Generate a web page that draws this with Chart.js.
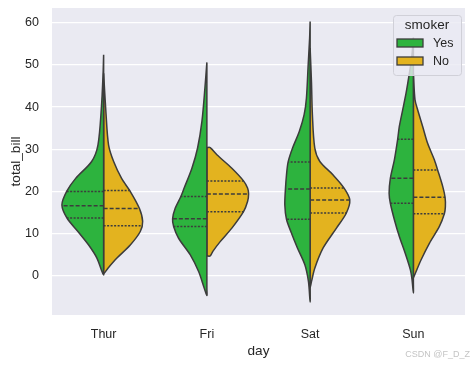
<!DOCTYPE html>
<html>
<head>
<meta charset="utf-8">
<script src="https://cdn.jsdelivr.net/npm/chart.js@4.4.1/dist/chart.umd.min.js"></script>
<style>
  html, body { margin: 0; padding: 0; background: #ffffff; }
  #wrap { position: relative; width: 474px; height: 365px; }
  #mark { position: absolute; right: 4px; top: 349px; font: 9px "Liberation Sans", Arial, sans-serif; color: #c4c4c4; }
</style>
</head>
<body>
<div id="wrap">
  <canvas id="c" width="474" height="365"></canvas>
  <div id="mark">CSDN @F_D_Z</div>
</div>
<script>
// ---- data ----
const days = ['Thur', 'Fri', 'Sat', 'Sun'];
const smokers = ['Yes', 'No'];
const yTicks = [0, 10, 20, 30, 40, 50, 60];

// density profiles: [total_bill, half-width in category units], top to bottom
const thurYes = [[52.4,0],[48,0.005],[39.7,0.022],[31,0.055],[27.1,0.116],[23.1,0.271],[20.0,0.358],[16.8,0.404],[13.7,0.355],[10.5,0.249],[7.3,0.145],[4.2,0.065],[1.0,0.016],[0.2,0]];
const thurNo  = [[48,0],[38.9,0.022],[31,0.048],[27.1,0.097],[23.1,0.174],[20.0,0.258],[16.0,0.346],[12.9,0.378],[10.5,0.355],[7.3,0.258],[4.2,0.129],[1.8,0.042],[0.5,0]];
const friYes  = [[50.6,0],[44.5,0.019],[36.6,0.048],[30.3,0.09],[25.5,0.145],[20.8,0.22],[18.8,0.252],[16.0,0.307],[13.5,0.332],[11.7,0.322],[8.9,0.274],[5.0,0.162],[1.0,0.08],[-2.9,0.026],[-4.7,0]];
const friNo   = [[30.4,0],[30.4,0.032],[28.7,0.097],[25.5,0.242],[22.5,0.355],[20.8,0.394],[19.4,0.404],[17.6,0.394],[15.2,0.355],[11.3,0.242],[8.1,0.129],[5.8,0.058],[4.7,0.032],[4.7,0]];
const satYes  = [[60.3,0],[56.3,0.005],[50,0.019],[42.1,0.036],[38.2,0.058],[34.2,0.105],[30.3,0.17],[27.0,0.213],[23.9,0.229],[20.6,0.239],[16.8,0.245],[13.4,0.229],[10.5,0.187],[6.6,0.123],[2.6,0.051],[-1.4,0.016],[-6.2,0]];
const satNo   = [[54,0],[46,0.013],[38.2,0.022],[30.3,0.045],[27.1,0.094],[23.9,0.223],[20.8,0.329],[18.0,0.384],[14.9,0.351],[11.3,0.255],[6.6,0.126],[1.8,0.045],[-1.4,0.013],[-2.8,0]];
const sunYes  = [[56.5,0],[52,0.015],[48,0.039],[43.3,0.071],[39.3,0.104],[35.4,0.136],[32.4,0.152],[27.5,0.184],[23.1,0.223],[19.6,0.235],[17.2,0.223],[13.3,0.184],[9.3,0.136],[5.4,0.08],[1.4,0.029],[-0.9,0.013],[-4.1,0]];
const sunNo   = [[48,0],[41.7,0.016],[39.3,0.042],[35.4,0.09],[31.4,0.138],[27.5,0.203],[25.1,0.235],[21.2,0.284],[18.6,0.307],[16.4,0.31],[14.7,0.3],[11.7,0.252],[7.7,0.155],[3.8,0.075],[0.6,0.019],[-0.5,0]];

// quartiles per day
const q1Yes  = [13.7, 11.7, 13.4, 17.2];
const medYes = [16.6, 13.5, 20.6, 23.1];
const q3Yes  = [20.0, 18.8, 27.0, 32.4];
const q1No   = [11.85, 15.2, 14.9, 14.7];
const medNo  = [15.95, 19.4, 18.0, 18.6];
const q3No   = [20.2, 22.5, 20.8, 25.1];

// ---- styling ----
const GREEN = '#2db33e';
const GOLD = '#e3b31f';
const EDGE = '#3c3c3c';
const FONT = '"Liberation Sans", Arial, Helvetica, sans-serif';

const profilesYes = [thurYes, friYes, satYes, sunYes];
const profilesNo = [thurNo, friNo, satNo, sunNo];

function halfPolygon(profile, center, side) {
  const pts = profile.map(([v, w]) => ({x: center + side * w, y: v}));
  for (let i = profile.length - 2; i >= 0; i--) pts.push({x: center, y: profile[i][0]});
  return pts;
}
function widthAt(profile, q) {
  for (let i = 0; i < profile.length - 1; i++) {
    const [v0, w0] = profile[i], [v1, w1] = profile[i + 1];
    if (q <= v0 && q >= v1) {
      if (v0 === v1) return Math.max(w0, w1);
      return w0 + (w1 - w0) * (v0 - q) / (v0 - v1);
    }
  }
  return 0;
}

const datasets = [];
days.forEach((d, i) => {
  datasets.push({label: 'Yes', order: 2, data: halfPolygon(profilesYes[i], i, -1), backgroundColor: GREEN, borderColor: EDGE, borderWidth: 1.5, fill: 'shape', tension: 0.3, pointRadius: 0});
  datasets.push({label: 'No', order: 2, data: halfPolygon(profilesNo[i], i, 1), backgroundColor: GOLD, borderColor: EDGE, borderWidth: 1.5, fill: 'shape', tension: 0.3, pointRadius: 0});
});
function quartLine(profile, center, side, q, dash) {
  return {label: 'q', order: 1, data: [{x: center, y: q}, {x: center + side * widthAt(profile, q), y: q}], borderColor: EDGE, borderWidth: 1.5, borderDash: dash, fill: false, pointRadius: 0, tension: 0};
}
days.forEach((d, i) => {
  datasets.push(quartLine(profilesYes[i], i, -1, q1Yes[i], [2, 1.5]));
  datasets.push(quartLine(profilesYes[i], i, -1, medYes[i], [4, 2]));
  datasets.push(quartLine(profilesYes[i], i, -1, q3Yes[i], [2, 1.5]));
  datasets.push(quartLine(profilesNo[i], i, 1, q1No[i], [2, 1.5]));
  datasets.push(quartLine(profilesNo[i], i, 1, medNo[i], [4, 2]));
  datasets.push(quartLine(profilesNo[i], i, 1, q3No[i], [2, 1.5]));
});

const bgPlugin = {
  id: 'bg',
  beforeDraw(chart) {
    const {ctx, chartArea: a} = chart;
    ctx.save();
    ctx.fillStyle = '#eaeaf2';
    ctx.fillRect(a.left, a.top, a.right - a.left, a.bottom - a.top);
    ctx.restore();
  }
};

const legendPlugin = {
  id: 'smokerLegend',
  afterDatasetsDraw(chart) {
    const {ctx, chartArea: a} = chart;
    const bx = a.right - 72, by = a.top + 7, bw = 68, bh = 60;
    ctx.save();
    ctx.beginPath();
    ctx.roundRect(bx + 0.5, by + 0.5, bw, bh, 3);
    ctx.fillStyle = 'rgba(234,234,242,0.8)';
    ctx.fill();
    ctx.strokeStyle = '#d0d0d8';
    ctx.lineWidth = 1;
    ctx.stroke();
    ctx.fillStyle = '#262626';
    ctx.textBaseline = 'middle';
    ctx.textAlign = 'center';
    ctx.font = '13.5px ' + FONT;
    ctx.fillText('smoker', bx + 34, by + 10.5);
    const colors = [GREEN, GOLD];
    smokers.forEach((s, k) => {
      const ry = by + 24 + k * 18;
      ctx.fillStyle = colors[k];
      ctx.fillRect(bx + 4, ry, 26, 8);
      ctx.strokeStyle = EDGE;
      ctx.lineWidth = 1.3;
      ctx.strokeRect(bx + 4, ry, 26, 8);
      ctx.fillStyle = '#262626';
      ctx.textAlign = 'left';
      ctx.font = '12.5px ' + FONT;
      ctx.fillText(s, bx + 40, ry + 4.5);
    });
    ctx.restore();
  }
};

new Chart(document.getElementById('c'), {
  type: 'line',
  data: {datasets},
  options: {
    responsive: false,
    animation: false,
    events: [],
    layout: {padding: {top: 8, right: 9, left: 0, bottom: 0}},
    plugins: {legend: {display: false}, tooltip: {enabled: false}},
    scales: {
      x: {
        type: 'linear', min: -0.5, max: 3.5,
        afterFit(s) { s.height = 50; s.paddingLeft = 0; s.paddingRight = 0; },
        afterBuildTicks(s) { s.ticks = days.map((d, i) => ({value: i})); },
        ticks: {callback: v => days[v], color: '#262626', font: {family: FONT, size: 12.5}, padding: 12, autoSkip: false, maxRotation: 0},
        grid: {display: false, drawTicks: false},
        border: {display: false},
        title: {display: true, text: 'day', color: '#262626', font: {family: FONT, size: 13.6}, padding: {top: 0, bottom: 6}}
      },
      y: {
        type: 'linear', min: -9.3, max: 63.5,
        afterFit(s) { s.width = 52; s.paddingTop = 0; s.paddingBottom = 0; },
        afterBuildTicks(s) { s.ticks = yTicks.map(v => ({value: v})); },
        ticks: {color: '#262626', font: {family: FONT, size: 12.5}, padding: 13},
        grid: {color: '#ffffff', lineWidth: 1.3, drawTicks: false},
        border: {display: false},
        title: {display: true, text: 'total_bill', color: '#262626', font: {family: FONT, size: 13.6}, padding: {top: 8, bottom: 0}}
      }
    }
  },
  plugins: [bgPlugin, legendPlugin]
});
</script>
</body>
</html>
